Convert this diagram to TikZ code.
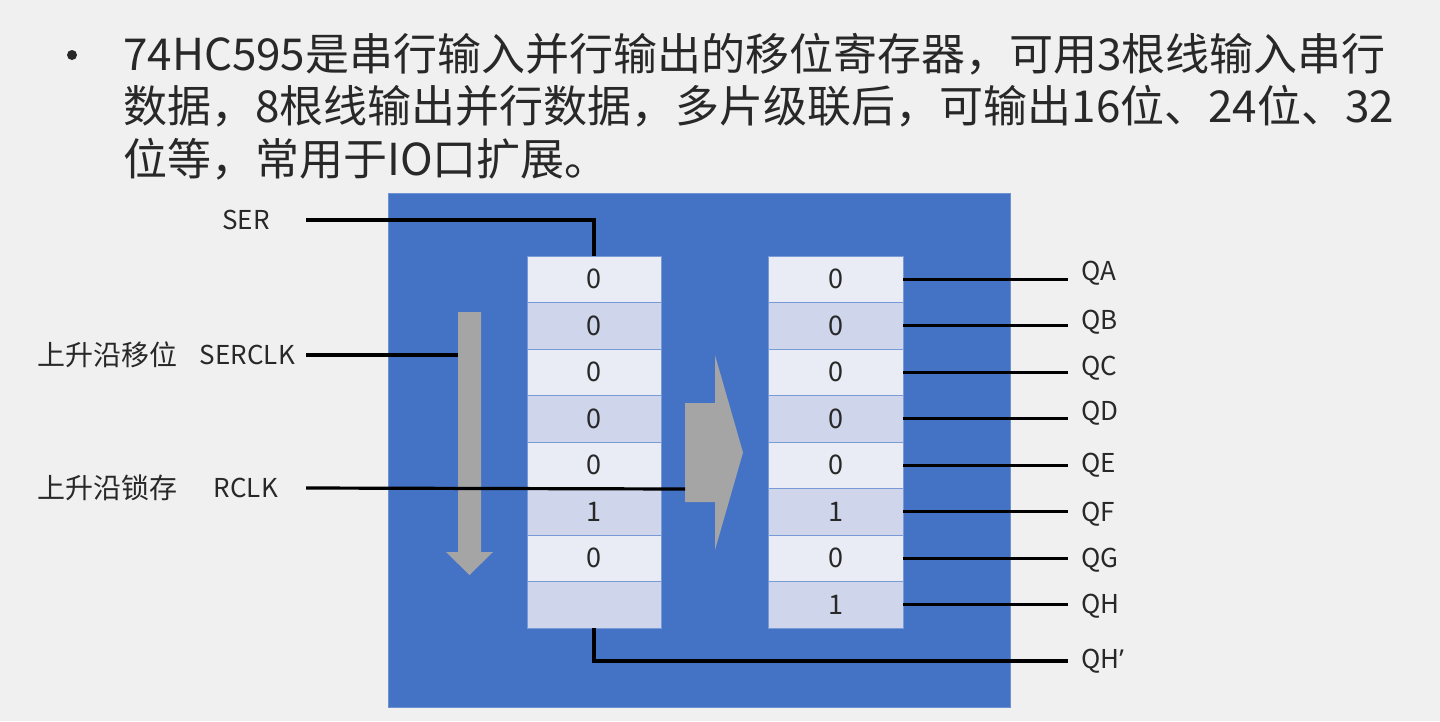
\documentclass[tikz,border=0pt]{standalone}
\usepackage{fontspec}
\setmainfont{Noto Sans CJK SC}
\newfontfamily\latinfont{Noto Sans}
\usepackage{xcolor}

\definecolor{slidebg}{RGB}{240,240,240}
\definecolor{chipblue}{RGB}{68,114,196}
\definecolor{chipedge}{RGB}{110,145,210}
\definecolor{celllight}{RGB}{233,235,245}
\definecolor{celldark}{RGB}{207,213,234}
\definecolor{cellline}{RGB}{120,155,215}
\definecolor{arrowgray}{RGB}{165,165,165}
\definecolor{textgray}{RGB}{40,40,40}

\tikzset{
  wire/.style={line width=3.2pt, black},
  cell/.style={draw=cellline, line width=0.8pt, minimum width=134pt, minimum height=46.5pt,
    inner sep=0pt, outer sep=0pt, text=textgray, font=\fontsize{27}{27}\selectfont},
  lbl/.style={inner sep=0pt, text=textgray, font=\fontsize{26}{26}\selectfont},
  note/.style={inner sep=0pt, text=textgray, font=\fontsize{28}{28}\selectfont},
  headline/.style={inner sep=0pt, anchor=base west, text=textgray, font=\fontsize{44}{52}\selectfont},
}

\begin{document}
\begin{tikzpicture}[x=1pt, y=-1pt]
    % Sfondo e riquadro
    \useasboundingbox (0,0) rectangle (1440,721);
    \fill[slidebg] (0,0) rectangle (1440,721);

    % Testo in alto
    \node[circle, fill=textgray, inner sep=0pt, minimum size=10pt] (bullet) at (72,55) {};
    \node[headline] (line1) at (123,70) {74HC595是串行输入并行输出的移位寄存器，可用3根线输入串行};
    \node[headline] (line2) at (123,122) {数据，8根线输出并行数据，多片级联后，可输出16位、24位、32};
    \node[headline] (line3) at (123,175) {位等，常用于IO口扩展。};

    % Chip
    \draw[chipedge, fill=chipblue, line width=0.8pt] (388,193) rectangle (1010,707);

    % Registri
    \foreach \lv/\rv/\shade [count=\i] in {0/0/celllight, 0/0/celldark, 0/0/celllight, 0/0/celldark,
        0/0/celllight, 1/1/celldark, 0/0/celllight, {}/1/celldark} {
      \node[cell, fill=\shade] (L\i) at (594, {256+46.5*\i-23.25}) {\lv};
      \node[cell, fill=\shade, minimum width=135pt] (R\i) at (835.5, {256+46.5*\i-23.25}) {\rv};
    }

    % Frecce grigie
    \fill[arrowgray] (458,312) -- (481,312) -- (481,552) -- (493,552) -- (469.5,575)
      -- (446,552) -- (458,552) -- cycle;
    \fill[arrowgray] (685,403) -- (715,403) -- (715,355) -- (743,452.5) -- (715,550)
      -- (715,502) -- (685,502) -- cycle;
    \coordinate (shiftin) at (458,355);
    \coordinate (latchin) at (685,489);

    % Ingressi
    \coordinate (wx) at (306,0);
    \node[lbl, anchor=east] (ser) at (270,220) {SER};
    \node[lbl, anchor=east] (serclk) at (295,355) {SERCLK};
    \node[lbl, anchor=east] (rclk) at (278,488) {RCLK};
    \node[note, anchor=west] (shiftnote) at (37,355) {上升沿移位};
    \node[note, anchor=west] (latchnote) at (37,488) {上升沿锁存};
    \draw[wire] (ser.east -| wx) -| (L1.north);
    \draw[wire] (serclk.east -| wx) -- (shiftin);
    \draw[wire] (rclk.east -| wx) -- (latchin);

    % Uscite
    \foreach \q/\y [count=\i] in {A/273, B/322, C/368, D/413, E/465, F/514, G/560, H/606} {
      \node[lbl, anchor=west] (q\i) at (1081,\y) {Q\q};
      \draw[wire, shorten >=13pt] (R\i.east) -- (R\i.east -| q\i.west);
    }
    \node[lbl, anchor=west] (qhs) at (1081,661) {QH{\latinfont ’}};
    \draw[wire, shorten >=13pt] (L8.south) |- (qhs.west);
\end{tikzpicture}
\end{document}
